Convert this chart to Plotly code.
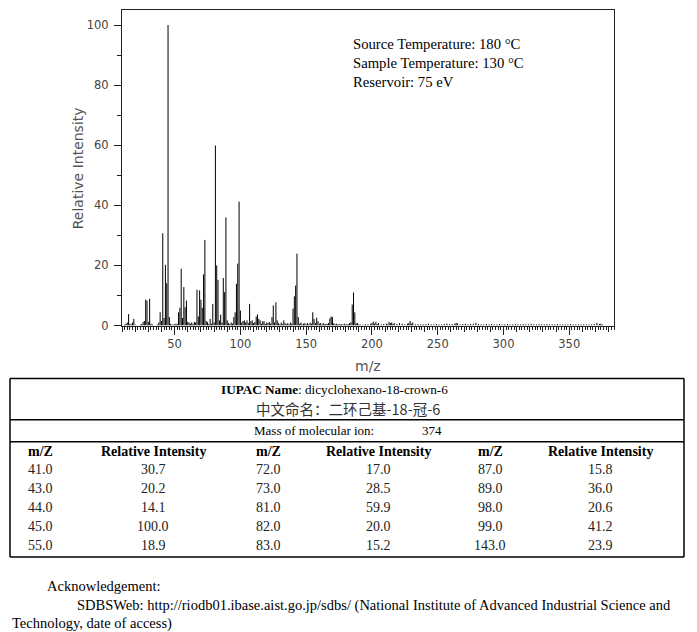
import plotly.graph_objects as go

W, H = 697, 632        # reference pixel grid used for placing things
FIG_H = 640            # layout height (viewport is rescaled to 632 when photographed)

# ---- spectrum data (m/z, relative intensity) ----
mz = [12, 13, 14, 15, 16, 17, 18, 19, 20, 24, 25, 26, 27, 28, 29, 30, 31, 32, 33, 37, 38, 39, 40,
      41, 42, 43, 44, 45, 46, 47, 48, 49, 50, 51, 52, 53, 54, 55, 56, 57, 58, 59, 60,
      61, 62, 63, 64, 65, 66, 67, 68, 69, 70, 71, 72, 73, 74, 75, 76, 77, 78, 79, 80,
      81, 82, 83, 84, 85, 86, 87, 88, 89, 90, 91, 92, 93, 94, 95, 96, 97, 98, 99, 100,
      101, 102, 103, 104, 105, 106, 107, 108, 109, 110, 111, 112, 113, 114, 115, 116, 117, 118, 119, 120,
      121, 122, 123, 124, 125, 126, 127, 128, 129, 130, 131, 132, 133, 134, 135, 136, 137, 138, 139, 140,
      141, 142, 143, 144, 145, 146, 147, 148, 149, 150, 151, 152, 153, 154, 155, 156, 157, 158, 159, 160,
      161, 162, 163, 164, 165, 166, 167, 168, 169, 170, 171, 172, 173, 174, 175, 176, 177, 178, 179, 180,
      181, 182, 183, 184, 185, 186, 187, 188, 189, 190,
      191, 193, 195, 197, 199, 200, 201, 202, 203, 204, 205, 207, 209, 211, 212, 213, 214, 215, 216, 217,
      219, 221, 223, 225, 227, 228, 229, 230, 231, 233, 235, 237, 239, 241, 243, 245, 247, 249, 251, 253,
      255, 257, 259, 261, 263, 264, 265, 267, 269, 271, 273, 275, 277, 279, 281, 283, 285, 287, 289, 291,
      293, 295, 297, 299, 301, 303, 305, 307, 309, 311, 313, 315, 317, 319, 321, 323, 325, 327, 329, 331,
      333, 335, 337, 339, 341, 343, 345, 347, 349, 351, 353, 355, 357, 359, 361, 363, 365, 367, 369, 371,
      373, 374, 375]
intensity = [0.3, 0.6, 1.0, 3.8, 0.6, 0.4, 1.0, 2.2, 0.3, 0.3, 0.5, 1.2, 1.5, 8.6, 8.3, 1.2, 8.9, 0.6, 0.4, 0.3, 1.0, 4.4, 1.5,
             30.7, 2.5, 20.2, 14.1, 100.0, 2.8, 0.6, 0.3, 0.3, 0.4, 0.6, 0.5, 4.4, 5.9, 18.9, 2.5, 12.8, 6.1, 8.3, 1.2,
             1.0, 0.6, 1.0, 0.5, 1.2, 1.0, 11.9, 3.0, 11.7, 8.6, 5.9, 17.0, 28.5, 1.5, 1.1, 0.5, 2.2, 0.6, 7.2, 1.0,
             59.9, 20.0, 15.2, 1.7, 3.6, 1.0, 15.8, 11.1, 36.0, 1.7, 0.8, 0.5, 1.0, 0.6, 2.8, 4.4, 13.9, 20.6, 41.2, 5.0,
             1.0, 1.5, 1.7, 1.0, 1.7, 0.8, 7.2, 1.4, 1.7, 0.8, 1.2, 3.0, 3.7, 2.2, 1.7, 0.6, 1.4, 1.4, 0.5, 1.0,
             0.8, 1.2, 0.6, 2.8, 6.7, 1.0, 7.7, 1.7, 0.8, 0.4, 1.0, 0.4, 1.7, 0.8, 0.4, 0.8, 0.4, 1.0, 0.6, 5.6,
             9.7, 13.3, 23.9, 2.8, 0.6, 1.0, 0.4, 0.6, 0.8, 0.4, 0.8, 0.4, 1.0, 0.6, 4.4, 2.2, 0.8, 2.6, 1.4, 0.6,
             0.8, 0.4, 0.8, 0.4, 0.6, 0.5, 0.8, 2.4, 3.0, 2.8, 0.8, 0.4, 0.6, 0.3, 0.5, 0.3, 0.5, 0.3, 0.6, 0.3,
             0.5, 0.4, 0.8, 1.0, 7.0, 11.0, 4.4, 0.8, 0.8, 0.3,
             0.4, 0.3, 0.5, 0.4, 0.6, 0.8, 1.3, 0.6, 1.2, 0.5, 0.8, 0.4, 0.5, 0.6, 0.4, 1.2, 0.8, 1.0, 0.5, 0.8,
             0.5, 0.8, 0.6, 0.4, 0.6, 0.8, 1.5, 0.6, 1.0, 0.4, 0.5, 0.4, 0.4, 0.5, 0.6, 0.4, 0.4, 0.5, 0.4, 0.4,
             0.5, 0.6, 0.4, 0.5, 0.6, 0.9, 0.7, 0.4, 0.5, 0.6, 0.4, 0.5, 0.6, 0.9, 0.5, 0.4, 0.4, 0.5, 0.4, 0.5,
             0.4, 0.4, 0.5, 0.4, 0.4, 0.5, 0.4, 0.4, 0.5, 0.4, 0.4, 0.5, 0.4, 0.4, 0.6, 0.4, 0.4, 0.5, 0.4, 0.4,
             0.5, 0.4, 0.4, 0.4, 0.5, 0.4, 0.4, 0.4, 0.4, 0.5, 0.4, 0.4, 0.4, 0.4, 0.4, 0.4, 0.4, 0.4, 0.5, 0.9,
             0.5, 0.6, 0.4]

x_range = [10, 384]
y_range = [0, 105]
x_tick_step = 50
y_tick_step = 20

conditions = ["Source Temperature: 180 °C", "Sample Temperature: 130 °C", "Reservoir: 75 eV"]

# ---- table data ----
iupac_name = "dicyclohexano-18-crown-6"
chinese_name = "二环己基-18-冠-6"
molecular_ion = 374
table_mz = [41.0, 43.0, 44.0, 45.0, 55.0, 72.0, 73.0, 81.0, 82.0, 83.0, 87.0, 89.0, 98.0, 99.0, 143.0]
table_int = [30.7, 20.2, 14.1, 100.0, 18.9, 17.0, 28.5, 59.9, 20.0, 15.2, 15.8, 36.0, 20.6, 41.2, 23.9]

ack_lines = ["Acknowledgement:",
             "SDBSWeb: http://riodb01.ibase.aist.go.jp/sdbs/ (National Institute of Advanced Industrial Science and",
             "Technology, date of access)"]


def px(x):
    return x / W


def py(y):
    return 1 - y / H


def note(x, y, text, size=14, family="Liberation Serif", color="black", xanchor="center", **kw):
    return dict(x=px(x), y=py(y), xref="paper", yref="paper", text=text, showarrow=False,
                xanchor=xanchor, yanchor="middle", font=dict(family=family, size=size, color=color), **kw)


xs, ys = [], []
for m, v in zip(mz, intensity):
    xs += [m, m, None]
    ys += [0, v, None]

fig = go.Figure()
fig.add_trace(go.Scatter(x=xs, y=ys, mode="lines", line=dict(color="black", width=1),
                         hoverinfo="skip", showlegend=False))
fig.add_trace(go.Scatter(x=[], y=[], xaxis="x2", yaxis="y", showlegend=False))

tickfont = dict(family="DejaVu Sans", size=11.5, color="#444")
axcol = "#222"

fig.update_layout(
    width=W, height=FIG_H, autosize=False,
    margin=dict(l=0, r=0, t=0, b=0),
    paper_bgcolor="white", plot_bgcolor="white",
    xaxis=dict(domain=[px(122), px(614)], range=x_range, tickmode="linear", tick0=0, dtick=x_tick_step,
               ticks="outside", ticklen=8, tickcolor=axcol, showline=True, linecolor=axcol, linewidth=1,
               mirror=True, showgrid=False, zeroline=False, tickfont=tickfont,
               minor=dict(tickmode="linear", tick0=0, dtick=2, ticks="outside", ticklen=3,
                          tickcolor=axcol, showgrid=False)),
    xaxis2=dict(overlaying="x", anchor="y", side="bottom", range=x_range, tickmode="linear", tick0=0,
                dtick=10, ticks="outside", ticklen=5, tickcolor=axcol, showticklabels=False,
                showline=False, showgrid=False, zeroline=False),
    yaxis=dict(domain=[py(325), py(10)], range=y_range, tickmode="linear", tick0=0, dtick=y_tick_step,
               ticks="outside", ticklen=7, tickcolor=axcol, showline=True, linecolor=axcol, linewidth=1,
               mirror=True, showgrid=False, zeroline=False, tickfont=tickfont, ticklabelstandoff=3,
               minor=dict(tickmode="linear", tick0=0, dtick=10, ticks="outside", ticklen=4,
                          tickcolor=axcol, showgrid=False)),
)

ann = []
# axis titles
ann.append(note(78, 168, "Relative Intensity", size=14, family="DejaVu Sans", color="#555", textangle=-90))
ann.append(note(368, 365, "m/z", size=14, family="DejaVu Sans", color="#555"))
# conditions
for i, t in enumerate(conditions):
    ann.append(note(351, 44 + 19 * i, t, size=14.7, xanchor="left"))

# table header texts
ann.append(note(334, 389, "<b>IUPAC Name</b>: " + iupac_name, size=13.2))
ann.append(note(348, 408, "中文命名：" + chinese_name, size=14.5, family="Noto Sans CJK SC", color="#333"))
ann.append(note(252, 430, "Mass of molecular ion:", size=13, xanchor="left"))
ann.append(note(432, 430, str(molecular_ion), size=13))

col_x = [40, 153, 268, 378, 490, 600]
for g in range(3):
    ann.append(note(col_x[2 * g], 451, "<b>m/Z</b>"))
    ann.append(note(col_x[2 * g + 1], 451, "<b>Relative Intensity</b>"))
    for r in range(5):
        k = g * 5 + r
        yy = 469 + 19 * r
        ann.append(note(col_x[2 * g], yy, f"{table_mz[k]:.1f}", color="#222"))
        ann.append(note(col_x[2 * g + 1], yy, f"{table_int[k]:.1f}", color="#222"))

# acknowledgement
ack_pos = [(45, 585), (75, 605), (10, 623)]
for t, (x0, y0) in zip(ack_lines, ack_pos):
    ann.append(note(x0, y0, t, size=14.5, xanchor="left"))

fig.update_layout(annotations=ann)

# table lines
shapes = []
for yline in [378, 419, 441, 556]:
    shapes.append(dict(type="line", xref="paper", yref="paper", x0=px(10), x1=px(684),
                       y0=py(yline), y1=py(yline), line=dict(color="black", width=1.5)))
for xline in [10, 684]:
    shapes.append(dict(type="line", xref="paper", yref="paper", x0=px(xline), x1=px(xline),
                       y0=py(378), y1=py(556), line=dict(color="black", width=1.5)))
fig.update_layout(shapes=shapes)

fig.write_html("out.html",
               config={"responsive": False, "displayModeBar": False},
               post_script="document.body.style.margin='0';document.body.style.overflow='hidden';")
